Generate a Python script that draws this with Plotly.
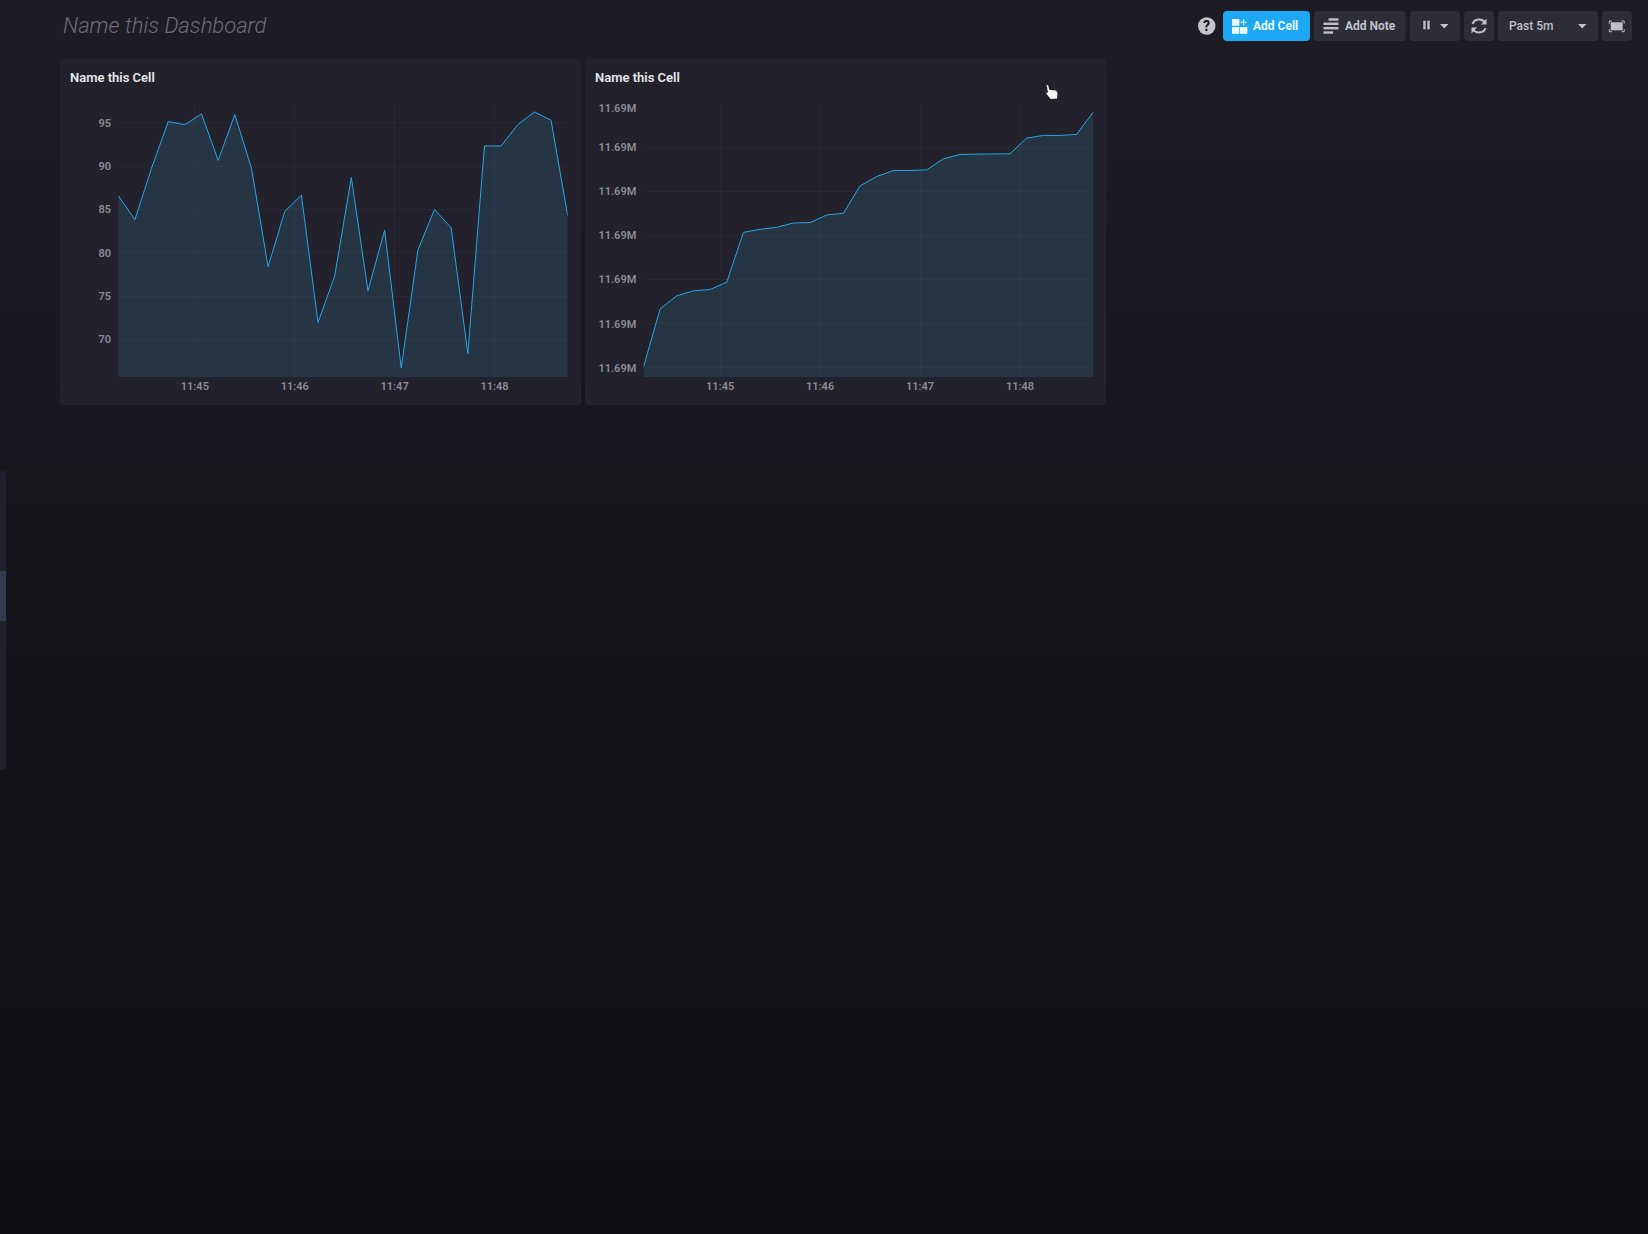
import plotly.graph_objects as go

# ---- data ----
times = [f"2018-01-01 11:{(14 + 10 * i) // 60 + 44:02d}:{(14 + 10 * i) % 60:02d}" for i in range(28)]
cell1_values = [86.59, 83.85, 89.79, 95.15, 94.81, 96.04, 90.68, 95.96, 89.79, 78.41,
                84.78, 86.67, 71.97, 77.33, 88.71, 75.63, 82.62, 66.72, 80.34, 85.01,
                82.89, 68.38, 92.34, 92.34, 94.81, 96.27, 95.31, 84.31]
cell2_values = [11688038, 11689356, 11689652, 11689765, 11689795, 11689962, 11691091,
                11691159, 11691205, 11691303, 11691311, 11691485, 11691523, 11692144,
                11692356, 11692492, 11692492, 11692508, 11692758, 11692856, 11692864,
                11692864, 11692871, 11693227, 11693288, 11693288, 11693311, 11693818]
x_ticks = ["2018-01-01 11:45:00", "2018-01-01 11:46:00", "2018-01-01 11:47:00", "2018-01-01 11:48:00"]
x_labels = ["11:45", "11:46", "11:47", "11:48"]
y1_ticks = [70, 75, 80, 85, 90, 95]
y1_labels = ["70", "75", "80", "85", "90", "95"]
y2_ticks = [11688020, 11689020, 11690020, 11691020, 11692020, 11693020, 11693900]
y2_labels = ["11.69M"] * 7
y2_grid = [11688020, 11689020, 11690020, 11691020, 11692020, 11693020, 11694020]
cell_title = "Name this Cell"
dash_title = "Name this Dashboard"

W, H = 1648, 1234
LINE = "#27A6E4"
FILL = "rgba(60,170,220,0.14)"
GRID = "rgba(100,110,135,0.085)"
TICK = "#8b8b95"
FONT = "Roboto"

fig = go.Figure()
shapes, notes = [], []


def px(x):
    return x / W


def py(y):
    return 1 - y / H


def hexc(c):
    return "#%02x%02x%02x" % tuple(int(round(v)) for v in c)


def rect(x0, y0, x1, y1, color, r=0, layer="below"):
    if r:
        path = (f"M{px(x0 + r)},{py(y0)} L{px(x1 - r)},{py(y0)} Q{px(x1)},{py(y0)} {px(x1)},{py(y0 + r)} "
                f"L{px(x1)},{py(y1 - r)} Q{px(x1)},{py(y1)} {px(x1 - r)},{py(y1)} "
                f"L{px(x0 + r)},{py(y1)} Q{px(x0)},{py(y1)} {px(x0)},{py(y1 - r)} "
                f"L{px(x0)},{py(y0 + r)} Q{px(x0)},{py(y0)} {px(x0 + r)},{py(y0)} Z")
        shapes.append(dict(type="path", xref="paper", yref="paper", path=path,
                           fillcolor=color, line=dict(width=0), layer=layer))
    else:
        shapes.append(dict(type="rect", xref="paper", yref="paper", x0=px(x0), x1=px(x1),
                           y0=py(y0), y1=py(y1), fillcolor=color, line=dict(width=0), layer=layer))


def poly(points, color, layer="above", close=True, width=0):
    p = "M" + " L".join(f"{px(a)},{py(b)}" for a, b in points) + (" Z" if close else "")
    shapes.append(dict(type="path", xref="paper", yref="paper", path=p,
                       fillcolor=color if close else "rgba(0,0,0,0)",
                       line=dict(width=width, color=color), layer=layer))


def text(x, y, s, size, color, weight=400, anchor="left", style="normal"):
    notes.append(dict(x=px(x), y=py(y), xref="paper", yref="paper", text=s, showarrow=False,
                      xanchor=anchor, yanchor="middle", align="left",
                      xshift=0, borderpad=0, borderwidth=0,
                      font=dict(family=FONT, size=size, color=color, weight=weight, style=style)))


# page background gradient
top, bot = (29, 28, 37), (14, 14, 19)
N = 32
for i in range(N):
    t = i / (N - 1)
    c = [top[k] + (bot[k] - top[k]) * t for k in range(3)]
    rect(0, H * i / N, W, H * (i + 1) / N + 1, hexc(c))

# side handle
rect(-4, 471, 6, 770, "#20202a", r=3)
rect(0, 571, 6, 621, "#343b50")

# cells
PANEL = "#23222c"
rect(60, 59, 581, 405, PANEL, r=3)
rect(585, 59, 1106, 405, PANEL, r=3)
text(70, 77, cell_title, 13, "#e7e8eb", 600)
text(595, 77, cell_title, 13, "#e7e8eb", 600)

# header
text(63, 25.5, dash_title, 22, "#6c6c78", 300, style="italic")

BTN = "#2d2d38"
BT = "#c0c0ca"
shapes.append(dict(type="circle", xref="paper", yref="paper", x0=px(1198), x1=px(1215.5),
                   y0=py(17.2), y1=py(34.7), fillcolor="#c4c4ce", line=dict(width=0), layer="above"))
text(1206.8, 26, "?", 14, "#1b1b23", 800, anchor="center")

rect(1223, 11, 1310, 41, "#1ea8f4", r=4)
for a, b in [(1232, 19), (1232, 27), (1240, 27)]:
    rect(a, b, a + 7.4, b + 6.8, "#e8f6fe", layer="above")
rect(1243, 19, 1244.2, 25.5, "#cfeafb", layer="above")
rect(1240.5, 21.7, 1246.7, 22.9, "#cfeafb", layer="above")
text(1253.3, 26, "Add Cell", 12, "#eaf6fe", 700)

rect(1314, 11, 1405.7, 41, BTN, r=4)
for a, b, y in [(1328.5, 1338.5, 19.5), (1323.5, 1338.5, 23.8), (1323.5, 1338.5, 28.2), (1323.5, 1333, 32.5)]:
    rect(a, y - 1.2, b, y + 1.2, BT, layer="above")
text(1344.7, 26, "Add Note", 12, BT, 700)

rect(1410, 11, 1460, 41, BTN, r=4)
rect(1423.3, 20.7, 1425.6, 29.3, BT, layer="above")
rect(1427.3, 20.7, 1429.7, 29.3, BT, layer="above")
poly([(1440, 24), (1448.5, 24), (1444.2, 28.4)], BT)

rect(1464, 11, 1494, 41, BTN, r=4)
shapes.append(dict(type="path", xref="paper", yref="paper", layer="above",
                   path=(f"M{px(1472.5)},{py(24)} Q{px(1474)},{py(19.5)} {px(1479)},{py(19.5)} "
                         f"Q{px(1483)},{py(19.5)} {px(1485)},{py(22.5)}"),
                   line=dict(color=BT, width=2)))
shapes.append(dict(type="path", xref="paper", yref="paper", layer="above",
                   path=(f"M{px(1485.5)},{py(28)} Q{px(1484)},{py(32.5)} {px(1479)},{py(32.5)} "
                         f"Q{px(1475)},{py(32.5)} {px(1473)},{py(29.5)}"),
                   line=dict(color=BT, width=2)))
poly([(1486.5, 18.5), (1486.5, 24.5), (1481, 24.5)], BT)
poly([(1471.5, 33.5), (1471.5, 27.5), (1477, 27.5)], BT)

rect(1498, 11, 1598, 41, BTN, r=4)
text(1509, 26, "Past 5m", 12, BT, 500)
poly([(1578, 24), (1586.5, 24), (1582.2, 28.4)], BT)

rect(1602, 11, 1632, 41, BTN, r=4)
rect(1610.7, 22.3, 1622.7, 30.3, BT, layer="above")
for a, b, dx, dy in [(1609.3, 21, 1, 1), (1624.2, 21, -1, 1), (1609.3, 31.7, 1, -1), (1624.2, 31.7, -1, -1)]:
    poly([(a + dx * 2.6, b), (a, b), (a, b + dy * 2.6)], BT, close=False, width=1)

# pointer
poly([(1046.5, 85), (1048, 85), (1049.5, 90), (1056, 90.5), (1057.5, 93), (1057, 98.5),
      (1050.5, 99), (1046, 93), (1048, 92.5)], "#f4f4f4")

# charts
fig.add_trace(go.Scatter(x=times, y=cell1_values, mode="lines", fill="tozeroy",
                         line=dict(color=LINE, width=1), fillcolor=FILL,
                         xaxis="x", yaxis="y", showlegend=False, hoverinfo="skip"))
fig.add_trace(go.Scatter(x=times, y=cell2_values, mode="lines", fill="tozeroy",
                         line=dict(color=LINE, width=1), fillcolor=FILL,
                         xaxis="x2", yaxis="y2", showlegend=False, hoverinfo="skip"))

xcommon = dict(type="date", range=[times[0], times[-1]], tickmode="array", tickvals=x_ticks,
               ticktext=x_labels, showgrid=True, gridcolor=GRID, gridwidth=1, zeroline=False,
               showline=False, ticks="", ticklabelstandoff=1,
               tickfont=dict(family=FONT, size=11, color=TICK, weight=600))
ycommon = dict(tickmode="array", showgrid=True, gridcolor=GRID, gridwidth=1, zeroline=False,
               showline=False, ticks="outside", ticklen=4, tickcolor="rgba(0,0,0,0)",
               tickfont=dict(family=FONT, size=11, color=TICK, weight=600))
ytop, ybottom = py(103), py(377)

fig.update_layout(
    width=W, height=H, margin=dict(l=0, r=0, t=0, b=0, pad=0),
    paper_bgcolor="#15151b", plot_bgcolor="rgba(0,0,0,0)",
    font=dict(family=FONT), showlegend=False, shapes=shapes, annotations=notes,
    xaxis=dict(domain=[px(118.3), px(567.7)], anchor="y", **xcommon),
    yaxis=dict(domain=[ybottom, ytop], anchor="x", range=[65.68, 97.3],
               tickvals=y1_ticks, ticktext=y1_labels, **ycommon),
    xaxis2=dict(domain=[px(643.5), px(1093.3)], anchor="y2", **xcommon),
    yaxis2=dict(domain=[ybottom, ytop], anchor="x2", range=[11687811, 11694023],
                tickvals=y2_ticks, ticktext=y2_labels,
                minor=dict(tickmode="array", tickvals=y2_grid, showgrid=True, gridcolor=GRID, ticks=""),
                **{**ycommon, "showgrid": False}),
)

fig.write_html("out.html", config=dict(displayModeBar=False),
               post_script="document.body.style.margin='0';document.body.style.background='#15151b';")
